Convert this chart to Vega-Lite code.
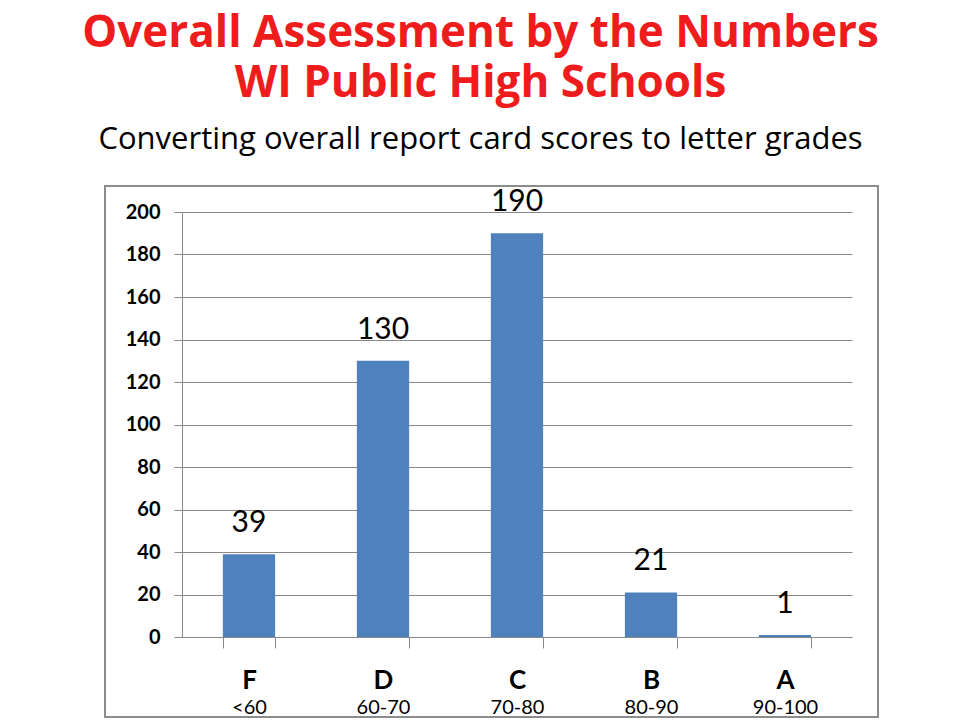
{
  "$schema": "https://vega.github.io/schema/vega-lite/v6.json",
  "autosize": "none",
  "width": 773,
  "height": 531,
  "padding": {"left": 105, "top": 186, "right": 82, "bottom": 3},
  "background": "white",
  "title": {
    "text": ["Overall Assessment by the Numbers", "WI Public High Schools"],
    "subtitle": "Converting overall report card scores to letter grades",
    "font": "Open Sans",
    "fontSize": 44,
    "fontWeight": "bold",
    "color": "#ee1c1c",
    "lineHeight": 50,
    "subtitleFont": "Open Sans",
    "subtitleFontSize": 31,
    "subtitleColor": "black",
    "subtitlePadding": 19,
    "anchor": "middle",
    "dx": -11,
    "offset": 31
  },
  "config": {
    "view": {"stroke": "#8c8c8c", "strokeWidth": 2},
    "axis": {"labelFont": "Lato", "labelColor": "black", "domainColor": "#888", "tickColor": "#888", "gridColor": "#888", "title": null}
  },
  "data": {
    "values": [
      {"grade": "F", "range": "<60", "count": 39},
      {"grade": "D", "range": "60-70", "count": 130},
      {"grade": "C", "range": "70-80", "count": 190},
      {"grade": "B", "range": "80-90", "count": 21},
      {"grade": "A", "range": "90-100", "count": 1}
    ]
  },
  "layer": [
    {
      "mark": {"type": "bar", "color": "#4f81bd"},
      "encoding": {
        "x": {
          "field": "grade",
          "type": "nominal",
          "sort": null,
          "scale": {"range": [77, 747], "paddingInner": 0.61, "paddingOuter": 0.305},
          "axis": {
            "orient": "bottom",
            "offset": -80,
            "tickBand": "extent",
            "tickSize": 11,
            "labelAngle": 0,
            "labelFontSize": 26,
            "labelFontWeight": "bold",
            "labelPadding": 19,
            "grid": false
          }
        },
        "y": {
          "field": "count",
          "type": "quantitative",
          "scale": {"domain": [0, 200], "range": [451, 26], "nice": false},
          "axis": {
            "offset": -77,
            "values": [0, 20, 40, 60, 80, 100, 120, 140, 160, 180, 200],
            "tickSize": 8,
            "labelFontSize": 20,
            "labelFontWeight": "bold",
            "labelPadding": 14,
            "grid": true
          }
        }
      }
    },
    {
      "mark": {"type": "text", "baseline": "alphabetic", "dy": -22, "font": "Lato", "fontSize": 30},
      "encoding": {
        "x": {
          "field": "range",
          "type": "nominal",
          "sort": null,
          "scale": {"range": [77, 747], "paddingInner": 0.61, "paddingOuter": 0.305},
          "axis": {
            "orient": "bottom",
            "offset": -80,
            "domain": false,
            "ticks": false,
            "labelAngle": 0,
            "labelFontSize": 20,
            "labelPadding": 60,
            "grid": false
          }
        },
        "y": {"field": "count", "type": "quantitative"},
        "text": {"field": "count", "type": "quantitative"}
      }
    }
  ],
  "resolve": {"scale": {"x": "independent"}, "axis": {"x": "independent"}}
}
